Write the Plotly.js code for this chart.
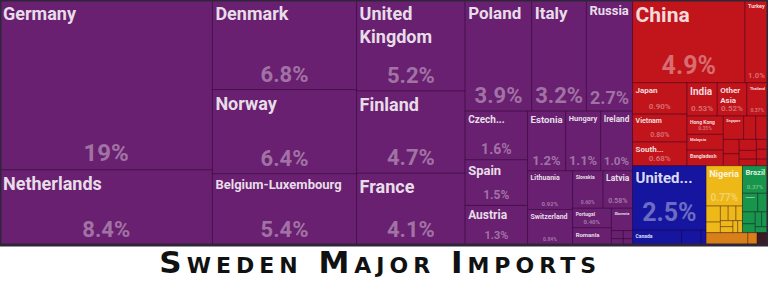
<!DOCTYPE html>
<html>
<head>
<meta charset="utf-8">
<script src="https://cdn.plot.ly/plotly-3.0.1.min.js"></script>
<style>
html,body{margin:0;padding:0;background:#fff;}
#chart{width:768px;height:281px;}
#chart .gtitle{letter-spacing:5px;}
</style>
</head>
<body>
<div id="chart"></div>
<script>
// Regions (continents) and their colours
const regions = ["Europe", "Asia", "North America", "Africa", "South America", "Oceania", "Other"];
const regionColors = ["#6A2070", "#C1141B", "#1515A0", "#EDB818", "#17954A", "#D97F1A", "#3A1C22"];

// Countries, their region, and share of imports (%)
const countries = [
  "Germany", "Netherlands", "Denmark", "Norway", "Belgium-Luxembourg", "United<br>Kingdom", "Finland", "France",
  "Poland", "Italy", "Russia", "Czech...", "Spain", "Austria", "Estonia", "Hungary", "Ireland",
  "Lithuania", "Switzerland", "Slovakia", "Latvia", "Portugal", "Romania", "Slovenia",
  "Greece", "Croatia", "Bulgaria", "Ukraine",
  "China", "Turkey", "Japan", "Vietnam", "South...", "India", "Other<br>Asia", "Thailand", "Hong Kong", "Malaysia",
  "Bangladesh", "Singapore", "Indonesia", "Israel", "Philippines", "Cambodia", "Kazakhstan", "Pakistan", "Sri Lanka",
  "Saudi Arabia", "United Arab Emirates", "Iran",
  "United...", "Canada", "Mexico", "Panama",
  "Nigeria", "South Africa", "Morocco", "Egypt", "Algeria", "Tunisia", "Ghana", "Kenya", "Ivory Coast", "Cameroon",
  "Brazil", "Venezuela", "Argentina", "Chile", "Colombia", "Peru", "Ecuador", "Uruguay",
  "Australia", "New Zealand",
  "Unspecified"
];
const countryRegion = [
  "Europe", "Europe", "Europe", "Europe", "Europe", "Europe", "Europe", "Europe",
  "Europe", "Europe", "Europe", "Europe", "Europe", "Europe", "Europe", "Europe", "Europe",
  "Europe", "Europe", "Europe", "Europe", "Europe", "Europe", "Europe",
  "Europe", "Europe", "Europe", "Europe",
  "Asia", "Asia", "Asia", "Asia", "Asia", "Asia", "Asia", "Asia", "Asia", "Asia",
  "Asia", "Asia", "Asia", "Asia", "Asia", "Asia", "Asia", "Asia", "Asia",
  "Asia", "Asia", "Asia",
  "North America", "North America", "North America", "North America",
  "Africa", "Africa", "Africa", "Africa", "Africa", "Africa", "Africa", "Africa", "Africa", "Africa",
  "South America", "South America", "South America", "South America", "South America", "South America", "South America", "South America",
  "Oceania", "Oceania",
  "Other"
];
const shares = [
  19, 8.4, 6.8, 6.4, 5.4, 5.2, 4.7, 4.1,
  3.9, 3.2, 2.7, 1.6, 1.5, 1.3, 1.2, 1.1, 1.0,
  0.92, 0.84, 0.60, 0.58, 0.40, 0.35, 0.25,
  0.05, 0.04, 0.04, 0.03,
  4.9, 1.0, 0.90, 0.80, 0.68, 0.53, 0.52, 0.37, 0.35, 0.30,
  0.30, 0.25, 0.15, 0.15, 0.12, 0.10, 0.10, 0.08, 0.06,
  0.06, 0.06, 0.04,
  2.5, 0.38, 0.15, 0.04,
  0.77, 0.12, 0.08, 0.06, 0.06, 0.05, 0.04, 0.03, 0.04, 0.03,
  0.37, 0.15, 0.10, 0.08, 0.06, 0.05, 0.05, 0.04,
  0.27, 0.06,
  0.07
];
// Maximum label / percentage font sizes per country (0 = not written)
const labelSizes = [
  18, 18, 18, 18, 13, 18, 18, 18,
  17, 17, 13, 10, 13, 12, 11, 9, 10,
  7, 7, 5, 9, 5, 6, 5,
  0, 0, 0, 0,
  21, 7, 8, 7, 8, 10, 8, 5, 5, 4,
  5, 5, 0, 0, 0, 0, 0, 0, 0,
  0, 0, 0,
  15, 5, 0, 0,
  10, 0, 0, 0, 0, 0, 0, 0, 0, 0,
  8, 5, 0, 0, 0, 0, 0, 0,
  0, 0,
  0
];
const pctSizes = [
  24, 22, 22, 22, 22, 22, 22, 22,
  22, 22, 18, 14, 12, 11, 13, 13, 13,
  6, 5, 5, 7, 6, 0, 0,
  0, 0, 0, 0,
  25, 8, 8, 7, 8, 8, 8, 5, 5, 0,
  0, 0, 0, 0, 0, 0, 0, 0, 0,
  0, 0, 0,
  25, 0, 0, 0,
  10, 0, 0, 0, 0, 0, 0, 0, 0, 0,
  6, 0, 0, 0, 0, 0, 0, 0,
  0, 0,
  0
];
const chartTitle = "Sweden Major Imports";

// Build hierarchy arrays
const ids = [], labels = [], parents = [], values = [], colors = [];
const pctTpl = [], lblTpl = [], lblSize = [], pctSize = [];
regions.forEach((r, i) => {
  ids.push("R-" + r); labels.push(r); parents.push(""); values.push(0); colors.push(regionColors[i]);
  pctTpl.push(""); lblTpl.push(""); lblSize.push(4); pctSize.push(4);
});
countries.forEach((c, i) => {
  const ri = regions.indexOf(countryRegion[i]);
  ids.push("C-" + c); labels.push(c); parents.push("R-" + countryRegion[i]);
  values.push(shares[i]); colors.push(regionColors[ri]);
  pctTpl.push(pctSizes[i] > 0 ? "%{value:.2r}%" : "");
  lblTpl.push(labelSizes[i] > 0 ? "<b>%{label}</b>" : "");
  lblSize.push(Math.max(labelSizes[i], 4)); pctSize.push(Math.max(pctSizes[i], 4));
});

const common = {
  type: "treemap",
  ids: ids, labels: labels, parents: parents, values: values,
  branchvalues: "remainder",
  sort: true,
  tiling: {packing: "squarify", squarifyratio: 1.618, pad: 0},
  pathbar: {visible: false},
  domain: {x: [0, 1], y: [0, 1]}
};

const fillTrace = Object.assign({}, common, {
  marker: {colors: colors, line: {color: "rgba(35,0,40,0.35)", width: 1}, pad: {t: 0, l: 0, r: 0, b: 0}},
  texttemplate: pctTpl,
  textposition: "bottom center",
  textfont: {family: "Roboto, 'Open Sans', sans-serif", size: pctSize, color: "rgba(255,255,255,0.38)", weight: 700},
  hoverinfo: "label+value"
});
const labelTrace = Object.assign({}, common, {
  marker: {colors: ids.map(() => "rgba(0,0,0,0)"), line: {width: 0}, pad: {t: 0, l: 0, r: 0, b: 0}},
  texttemplate: lblTpl,
  textposition: "top left",
  textfont: {family: "Roboto, 'Open Sans', sans-serif", size: lblSize, color: "rgba(255,255,255,0.86)"},
  hoverinfo: "skip"
});

const layout = {
  width: 768, height: 281,
  margin: {l: 0, r: 0, t: 0, b: 36},
  paper_bgcolor: "#ffffff",
  showlegend: false,
  title: {
    text: chartTitle,
    font: {family: "'DejaVu Sans', sans-serif", size: 31, color: "#111111", weight: 700, variant: "small-caps"},
    x: 0.495, xanchor: "center",
    yref: "container", y: 1 - 262.5 / 281, yanchor: "middle"
  },
  shapes: [{
    type: "rect", xref: "paper", yref: "paper", x0: 0, x1: 1, y0: 0, y1: 1,
    line: {color: "#2E2638", width: 3}, fillcolor: "rgba(0,0,0,0)", layer: "above"
  }]
};

Plotly.newPlot("chart", [fillTrace, labelTrace], layout, {displayModeBar: false, staticPlot: true});
</script>
</body>
</html>
